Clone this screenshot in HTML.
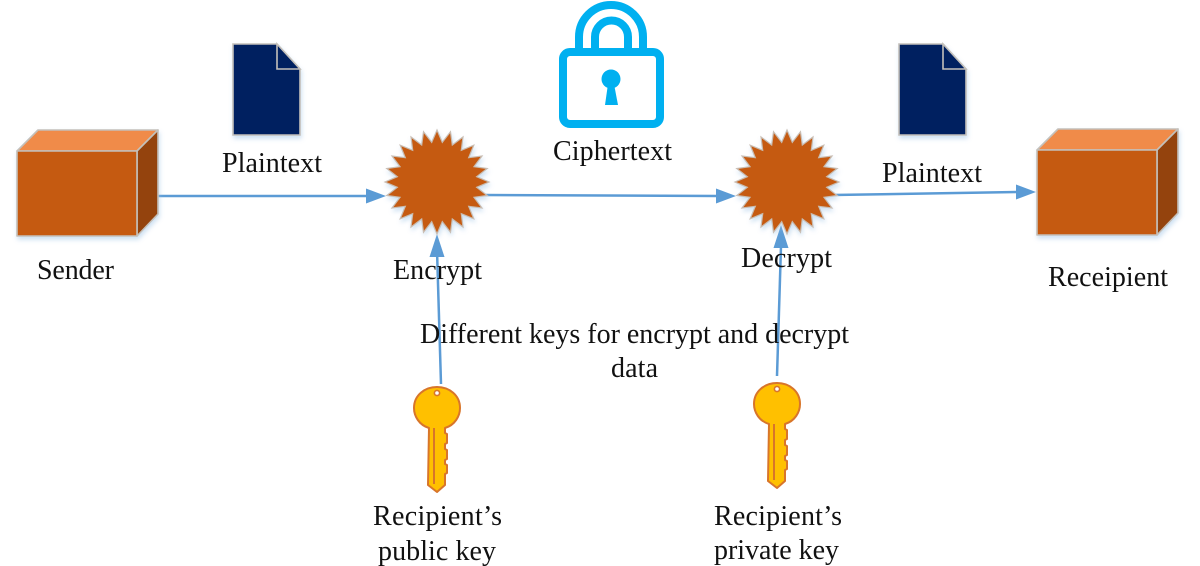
<!DOCTYPE html>
<html><head><meta charset="utf-8"><style>
html,body{margin:0;padding:0;background:#fff}
svg{display:block}
text{font-family:"Liberation Serif",serif;font-size:28px;fill:#111}
</style></head><body>
<svg width="1200" height="566" viewBox="0 0 1200 566" xmlns="http://www.w3.org/2000/svg">
<defs>
<filter id="s" x="-15%" y="-15%" width="135%" height="135%"><feGaussianBlur in="SourceAlpha" stdDeviation="2.5" result="b"/><feFlood flood-color="#9dc3e6" flood-opacity="0.5" result="c"/><feComposite in="c" in2="b" operator="in" result="d"/><feOffset in="d" dx="1" dy="3"/></filter>
<g id="box" stroke="#c4c0ba" stroke-width="1.6" stroke-linejoin="round">
<polygon points="0,21 21,0 141,0 120,21" fill="#f08b49"/>
<polygon points="120,21 141,0 141,84 120,106" fill="#94430d"/>
<rect x="0" y="21" width="120" height="85" fill="#c55a11"/>
</g>
<g id="doc" stroke="#c4c0ba" stroke-width="1.6">
<polygon points="0,0 44,0 67,25 67,91 0,91" fill="#002060"/>
<polygon points="44,0 67,25 44,25" fill="#002060"/>
</g>
<polygon id="star" fill="#c55a11" stroke="#c9bdb2" stroke-width="1.2" points="0,-52 5.3,-39.7 13.5,-50.2 15.3,-37 26,-45 24.3,-31.7 36.8,-36.8 31.7,-24.3 45,-26 37,-15.3 50.2,-13.5 39.7,-5.3 52,0 39.7,5.3 50.2,13.5 37,15.3 45,26 31.7,24.3 36.8,36.8 24.3,31.7 26,45 15.3,37 13.5,50.2 5.3,39.7 0,52 -5.3,39.7 -13.5,50.2 -15.3,37 -26,45 -24.3,31.7 -36.8,36.8 -31.7,24.3 -45,26 -37,15.3 -50.2,13.5 -39.7,5.3 -52,0 -39.7,-5.3 -50.2,-13.5 -37,-15.3 -45,-26 -31.7,-24.3 -36.8,-36.8 -24.3,-31.7 -26,-45 -15.3,-37 -13.5,-50.2 -5.3,-39.7"/>
<g id="key" stroke="#d8752a" stroke-width="2">
<path fill="#ffc000" stroke-linejoin="round" d="M-8,40 C-18,37 -23,28 -23,20 C-23,7 -12,-1 0,-1 C12,-1 23,7 23,20 C23,28 18,37 8,40 L8,45 L10,46 L10,55 L8,56 L8,61 L10,62 L10,71 L8,72 L8,76 L10,77 L10,85 L8,86 L8,97 L0,104 L-9,97 Z"/>
<path fill="none" stroke-width="2" d="M-3,40 V96"/>
<circle cx="0" cy="5" r="2.6" fill="#fff" stroke-width="1.6"/>
</g>
</defs>

<!-- connectors -->
<g stroke="#5b9bd5" stroke-width="2.5" fill="#5b9bd5">
<line x1="158" y1="196" x2="368" y2="196"/>
<polygon stroke="none" points="386,196 366,188.5 366,203.5"/>
<line x1="484" y1="195" x2="718" y2="196"/>
<polygon stroke="none" points="736,196 716,188.5 716,203.5"/>
<line x1="833" y1="195" x2="1018" y2="192"/>
<polygon stroke="none" points="1036,192 1016,184.5 1016,199.5"/>
<line x1="441" y1="384" x2="437" y2="250"/>
<polygon stroke="none" points="437,234 429.5,257 444.5,257"/>
<line x1="777" y1="376" x2="781" y2="246"/>
<polygon stroke="none" points="781,225 773.5,248 788.5,248"/>
</g>

<!-- boxes -->
<use href="#box" x="17" y="130" filter="url(#s)"/>
<use href="#box" x="17" y="130"/>
<use href="#box" x="1037" y="129" filter="url(#s)"/>
<use href="#box" x="1037" y="129"/>

<!-- documents -->
<use href="#doc" x="233" y="44" filter="url(#s)"/>
<use href="#doc" x="233" y="44"/>
<use href="#doc" x="899" y="44" filter="url(#s)"/>
<use href="#doc" x="899" y="44"/>

<!-- stars -->
<use href="#star" x="437" y="182" filter="url(#s)"/>
<use href="#star" x="437" y="182"/>
<use href="#star" x="787" y="182" filter="url(#s)"/>
<use href="#star" x="787" y="182"/>

<!-- lock -->
<g fill="none" stroke="#00b0f0" stroke-width="8">
<rect x="563" y="52" width="97" height="72" rx="7"/>
<path d="M579,50 V37 A32,32 0 0 1 643,37 V50"/>
<path d="M595,50 V37 A16.5,16.5 0 0 1 628,37 V50"/>
</g>
<circle cx="611" cy="79" r="9.5" fill="#00b0f0"/>
<polygon points="608,84 614,84 618,105 605,105" fill="#00b0f0"/>

<!-- keys -->
<use href="#key" x="437" y="388"/>
<use href="#key" x="777" y="384"/>

<!-- labels -->
<text x="222" y="172" textLength="100" lengthAdjust="spacing">Plaintext</text>
<text x="37" y="279" textLength="77" lengthAdjust="spacing">Sender</text>
<text x="393" y="279" textLength="89" lengthAdjust="spacing">Encrypt</text>
<text x="553" y="160" textLength="119" lengthAdjust="spacing">Ciphertext</text>
<text x="741" y="267" textLength="91" lengthAdjust="spacing">Decrypt</text>
<text x="882" y="182" textLength="100" lengthAdjust="spacing">Plaintext</text>
<text x="1048" y="286" textLength="120" lengthAdjust="spacing">Receipient</text>
<text x="420" y="343" textLength="429" lengthAdjust="spacing">Different keys for encrypt and decrypt</text>
<text x="611" y="377" textLength="47" lengthAdjust="spacing">data</text>
<text x="373" y="525" textLength="129" lengthAdjust="spacing">Recipient’s</text>
<text x="378" y="560" textLength="118" lengthAdjust="spacing">public key</text>
<text x="714" y="525" textLength="128" lengthAdjust="spacing">Recipient’s</text>
<text x="714" y="559" textLength="125" lengthAdjust="spacing">private key</text>
</svg>
</body></html>
